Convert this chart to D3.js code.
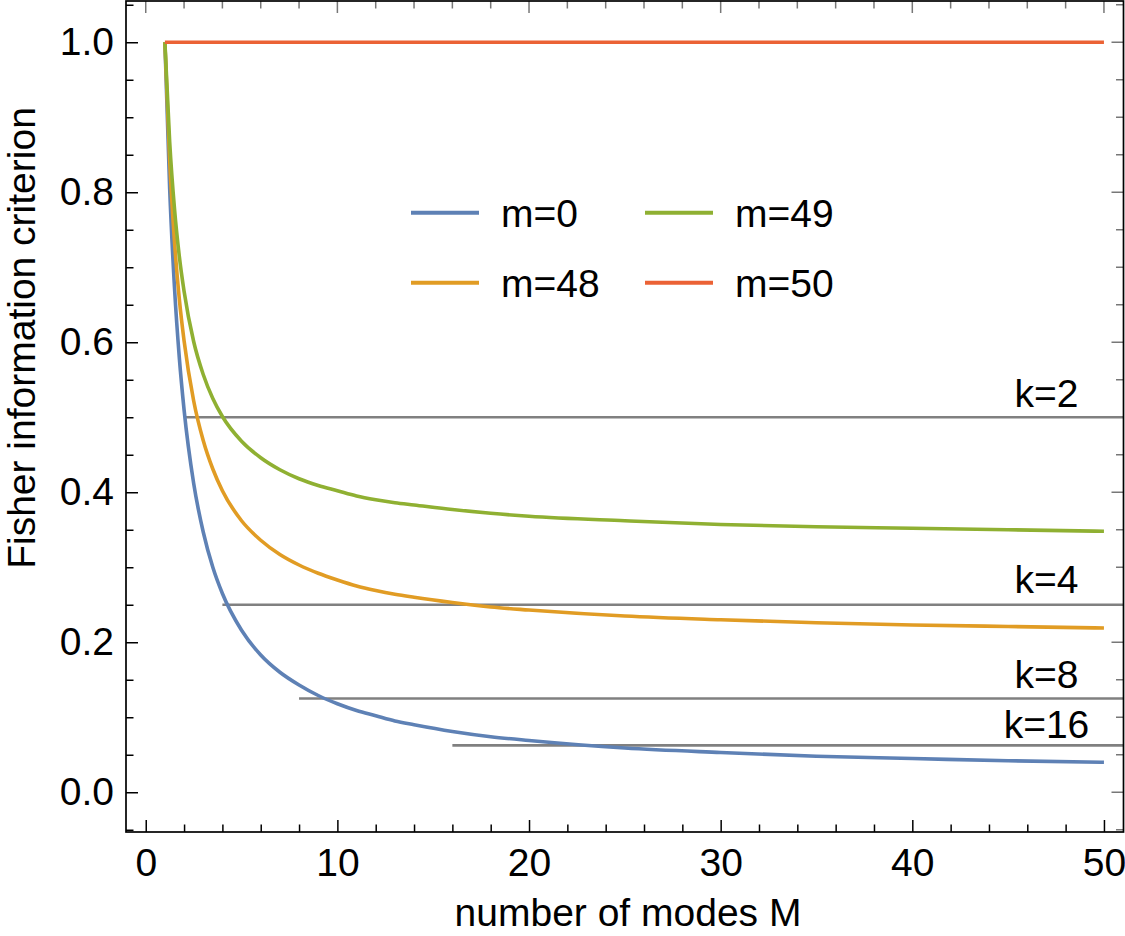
<!DOCTYPE html>
<html>
<head>
<meta charset="utf-8">
<script src="https://cdn.jsdelivr.net/npm/d3@7"></script>
<style>
  body { margin: 0; background: #fff; }
  svg text { font-family: 'Liberation Sans', Arial, Helvetica, sans-serif; fill: #000; }
  .frame { fill: none; stroke: #000; stroke-width: 1.7px; }
  .mirror-tick { stroke: #777; stroke-width: 1.5px; }
  .curve { fill: none; stroke-width: 3.6px; stroke-linejoin: round; }
  .k-line { stroke: #808080; stroke-width: 2.7px; }
</style>
</head>
<body>
<div id="chart"></div>
<script>
const modes = [1, 1.25, 1.5, 1.75, 2, 2.5, 3, 3.5, 4, 5, 6, 7, 8, 9, 10, 11, 12, 13, 14, 16, 18, 20, 25, 30, 35, 40, 45, 50];

// Fisher information criterion for each m
const m0  = [1.000, 0.804, 0.673, 0.580, 0.510, 0.412, 0.347, 0.300, 0.265, 0.216, 0.183, 0.160, 0.143, 0.129, 0.118, 0.109, 0.102, 0.095, 0.090, 0.081, 0.074, 0.069, 0.059, 0.053, 0.048, 0.045, 0.042, 0.040];
const m48 = [1.000, 0.841, 0.734, 0.658, 0.602, 0.522, 0.469, 0.431, 0.402, 0.362, 0.336, 0.317, 0.303, 0.292, 0.283, 0.275, 0.269, 0.264, 0.260, 0.253, 0.247, 0.243, 0.235, 0.230, 0.226, 0.223, 0.221, 0.219];
const m49 = [1.000, 0.867, 0.778, 0.715, 0.668, 0.601, 0.557, 0.525, 0.501, 0.468, 0.446, 0.430, 0.418, 0.409, 0.402, 0.395, 0.390, 0.386, 0.383, 0.377, 0.372, 0.368, 0.362, 0.357, 0.354, 0.352, 0.350, 0.348];
const m50Modes = [1, 50];
const m50 = [1.0, 1.0];

// Reference levels k (horizontal gray lines)
const kLabels = ['k=2', 'k=4', 'k=8', 'k=16'];
const kStart  = [2, 4, 8, 16];
const kLevel  = [0.5, 0.25, 0.125, 0.0625];

// Ticks
const xMajor = [0, 10, 20, 30, 40, 50];
const yMajor = [0.0, 0.2, 0.4, 0.6, 0.8, 1.0];

const config = {
  width: 1125,
  height: 936,
  frame: {left: 126, right: 1123.5, top: 1, bottom: 832},
  xDomain: [-1.03, 51.02],
  yDomain: [-0.053, 1.055],
  fontSize: 39,
  majorTick: 12,
  minorTick: 7.5,
  kLabelX: 47,
  kLabelDy: [-10, -12, -11, -7]
};

const series = [
  {name: 'm=0',  color: '#5E81B5', x: modes, y: m0},
  {name: 'm=48', color: '#E19C24', x: modes, y: m48},
  {name: 'm=49', color: '#8FB032', x: modes, y: m49},
  {name: 'm=50', color: '#EB6235', x: m50Modes, y: m50}
];

const f = config.frame;

const svg = d3.select('#chart').append('svg')
    .attr('width', config.width)
    .attr('height', config.height);

const x = d3.scaleLinear().domain(config.xDomain).range([f.left, f.right]);
const y = d3.scaleLinear().domain(config.yDomain).range([f.bottom, f.top]);

// Minor tick positions
const xMinor = d3.range(0, 51, 2).filter(v => v % 10 !== 0);
const yMinor = d3.range(-0.05, 1.06, 0.05).map(v => +v.toFixed(2))
    .filter(v => Math.abs(Math.round(v * 5) - v * 5) > 1e-6);

// Bottom axis (labelled, ticks point inward so padding starts at the frame)
const xAxis = svg.append('g')
    .attr('transform', `translate(0,${f.bottom})`)
    .call(d3.axisBottom(x).tickValues(xMajor).tickSize(-config.majorTick).tickSizeOuter(0).tickPadding(16)
      .tickFormat(d3.format('d')));
xAxis.append('g').call(d3.axisBottom(x).tickValues(xMinor).tickSize(-config.minorTick).tickSizeOuter(0).tickFormat(''));

// Left axis
const yAxis = svg.append('g')
    .attr('transform', `translate(${f.left},0)`)
    .call(d3.axisLeft(y).tickValues(yMajor).tickSize(-config.majorTick).tickSizeOuter(0).tickPadding(12)
      .tickFormat(d3.format('.1f')));
yAxis.append('g').call(d3.axisLeft(y).tickValues(yMinor).tickSize(-config.minorTick).tickSizeOuter(0).tickFormat(''));

svg.selectAll('.domain').remove();
svg.selectAll('.tick line').attr('stroke', '#000').attr('stroke-width', 1.5);
svg.selectAll('.tick text').style('font-size', `${config.fontSize}px`).attr('fill', '#000');

// Mirrored ticks on top and right, no labels
const topTicks = xMajor.map(v => ({v, len: config.majorTick})).concat(xMinor.map(v => ({v, len: config.minorTick})));
svg.append('g').selectAll('line')
    .data(topTicks)
  .join('line')
    .attr('class', 'mirror-tick')
    .attr('x1', d => x(d.v)).attr('x2', d => x(d.v))
    .attr('y1', f.top).attr('y2', d => f.top + d.len);

const rightTicks = yMajor.map(v => ({v, len: config.majorTick})).concat(yMinor.map(v => ({v, len: config.minorTick})));
svg.append('g').selectAll('line')
    .data(rightTicks)
  .join('line')
    .attr('class', 'mirror-tick')
    .attr('y1', d => y(d.v)).attr('y2', d => y(d.v))
    .attr('x1', f.right).attr('x2', d => f.right - d.len);

// Gray reference lines, drawn under the curves
const kData = kLabels.map((label, i) => ({label, start: kStart[i], level: kLevel[i], dy: config.kLabelDy[i]}));
svg.append('g').selectAll('line')
    .data(kData)
  .join('line')
    .attr('class', 'k-line')
    .attr('x1', d => x(d.start))
    .attr('x2', f.right)
    .attr('y1', d => y(d.level))
    .attr('y2', d => y(d.level));

svg.append('g').selectAll('text')
    .data(kData)
  .join('text')
    .attr('x', x(config.kLabelX))
    .attr('y', d => y(d.level) + d.dy)
    .attr('text-anchor', 'middle')
    .style('font-size', `${config.fontSize}px`)
    .text(d => d.label);

// Curves
const line = d3.line()
    .x(d => x(d[0]))
    .y(d => y(d[1]))
    .curve(d3.curveMonotoneX);

svg.append('g').selectAll('path')
    .data(series)
  .join('path')
    .attr('class', 'curve')
    .attr('stroke', d => d.color)
    .attr('d', d => line(d.x.map((v, i) => [v, d.y[i]])));

// Legend, 2 columns
const legendPos = [[411, 212.7], [411, 282.7], [645, 212.7], [645, 282.7]];
const legend = svg.append('g').selectAll('g')
    .data(series)
  .join('g')
    .attr('transform', (d, i) => `translate(${legendPos[i][0]},${legendPos[i][1]})`);

legend.append('line')
    .attr('x1', 0).attr('x2', 68)
    .attr('stroke', d => d.color)
    .attr('stroke-width', 4);

legend.append('text')
    .attr('x', 90)
    .attr('y', 14)
    .style('font-size', `${config.fontSize}px`)
    .text(d => d.name);

// Frame
svg.append('rect')
    .attr('class', 'frame')
    .attr('x', f.left).attr('y', f.top)
    .attr('width', f.right - f.left)
    .attr('height', f.bottom - f.top);

// Axis titles
svg.append('text')
    .attr('x', 628)
    .attr('y', 926)
    .attr('text-anchor', 'middle')
    .style('font-size', `${config.fontSize}px`)
    .text('number of modes M');

svg.append('text')
    .attr('transform', 'translate(35,338) rotate(-90)')
    .attr('text-anchor', 'middle')
    .style('font-size', `${config.fontSize}px`)
    .text('Fisher information criterion');
</script>
</body>
</html>
